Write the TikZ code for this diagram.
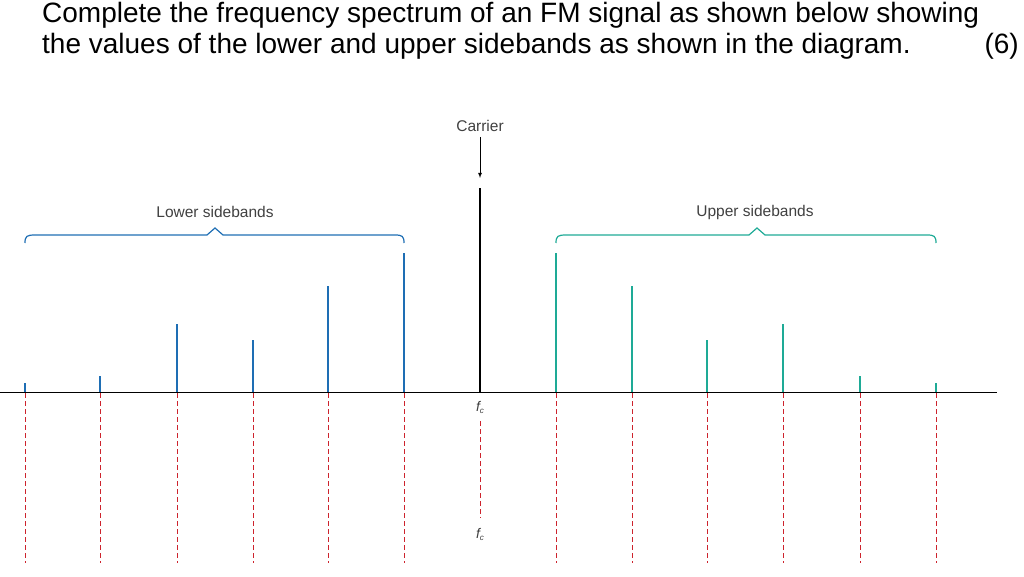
\documentclass[tikz,border=0pt]{standalone}
\usepackage{fontspec}
\setmainfont{Liberation Sans}
\begin{document}
\begin{tikzpicture}[x=1pt,y=-1pt,
  lblue/.style={draw=bluec,line width=1.2pt},
  lteal/.style={draw=tealc,line width=1.2pt},
  reddash/.style={draw=redc,line width=1pt,dash pattern=on 5pt off 3pt},
  small/.style={font=\fontsize{15.5}{18}\selectfont,text=black!75,inner sep=0pt},
  big/.style={font=\fontsize{28}{32}\selectfont,inner sep=0pt,anchor=west}]
\definecolor{bluec}{RGB}{30,110,180}
\definecolor{tealc}{RGB}{30,170,150}
\definecolor{redc}{RGB}{205,35,45}
\useasboundingbox (0,0) rectangle (1024,577);
\node[big] (t1) at (42,15) {Complete the frequency spectrum of an FM signal as shown below showing};
\node[big] (t2) at (42,46) {the values of the lower and upper sidebands as shown in the diagram.};
\node[big,anchor=east] (t3) at (1019,46) {(6)};
% axis
\coordinate (a0) at (0,392); \coordinate (a1) at (997,392);
\draw[line width=1pt] (a0) -- (a1);
% red dashed
\foreach \x in {25,100,177,253,328,404,556,632,707,783,860,936}
  \draw[reddash] (\x,393) -- (\x,563);
\draw[reddash] (480,421) -- (480,518);
\node[small,font=\itshape\fontsize{14}{16}\selectfont] (fc1) at (480,407) {f\raisebox{-2pt}{\footnotesize c}};
\node[small,font=\itshape\fontsize{14}{16}\selectfont] (fc2) at (480,534) {f\raisebox{-2pt}{\footnotesize c}};
% lower lines
\foreach \x/\h in {25/383,100/376,177/324,253/340,328/286,404/253}
  \draw[lblue] (\x,392) -- (\x,\h);
\foreach \x/\h in {556/253,632/286,707/340,783/324,860/376,936/383}
  \draw[lteal] (\x,392) -- (\x,\h);
% carrier
\draw[line width=1.2pt] (480,392) -- (480,188);
\node[small] (car) at (480,126) {Carrier};
\coordinate (ct) at (480,178);
\draw[-latex,line width=0.8pt] (car.south) ++(0,5) -- (ct);
% braces
\draw[lblue] (25,243) .. controls (25,236) and (27,235) .. (35,235) -- (207,235) -- (215,228) -- (223,235) -- (395,235) .. controls (402,235) and (404,236) .. (404,243);
\node[small] (lsb) at (215,212) {Lower sidebands};
\draw[lteal] (556,243) .. controls (556,236) and (558,235) .. (566,235) -- (749,235) -- (757,228) -- (765,235) -- (927,235) .. controls (934,235) and (936,236) .. (936,243);
\node[small] (usb) at (755,212) {Upper sidebands};
\end{tikzpicture}
\end{document}
